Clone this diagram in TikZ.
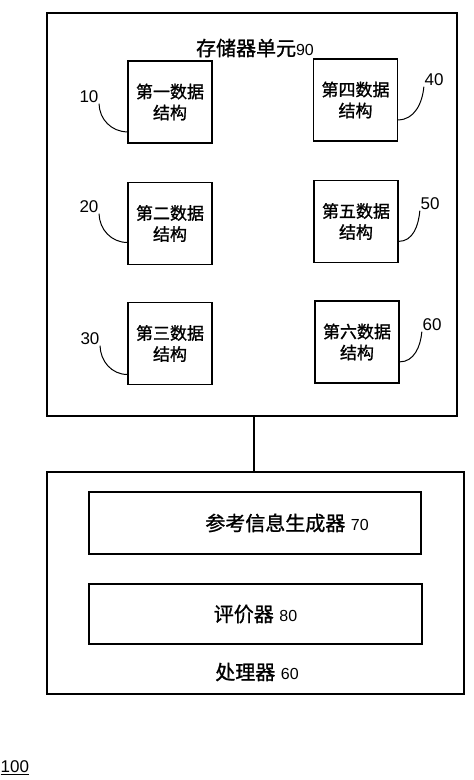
\documentclass[tikz,border=0pt]{standalone}
\usepackage{fontspec}
\setmainfont{Liberation Sans}
\newfontfamily\cjk[FakeBold=1.2]{Noto Sans CJK SC}
\usepackage{tikz}
\usetikzlibrary{positioning}

\tikzset{
    databox/.style={draw, line width=1.3pt, minimum width=84pt, minimum height=82pt,
        align=center, inner sep=0pt, font=\cjk\fontsize{17}{21}\selectfont},
    numlabel/.style={inner sep=0.5pt, font=\fontsize{17}{20}\selectfont},
    leader/.style={line width=1pt},
    unitbox/.style={draw, line width=1.4pt, inner sep=0pt},
}

\begin{document}
\begin{tikzpicture}[x=1pt, y=-1pt]
    \useasboundingbox (0, 0) rectangle (474, 780);
    % Memory unit
    \node [unitbox, minimum width=410pt, minimum height=403pt] (mem) at (252, 214.5) {};
    \node [font=\fontsize{20}{24}\selectfont] (memlabel) at (255, 48) {{\cjk 存储器单元}\fontsize{16}{18}\selectfont 90};
    % Data structures
    \node [databox] (ds1) at (170, 102) {第一数据\\结构};
    \node [databox] (ds2) at (170, 223.5) {第二数据\\结构};
    \node [databox] (ds3) at (170, 343.5) {第三数据\\结构};
    \node [databox] (ds4) at (355.5, 100) {第四数据\\结构};
    \node [databox] (ds5) at (356, 221.5) {第五数据\\结构};
    \node [databox] (ds6) at (357, 342) {第六数据\\结构};
    % Reference numbers
    \node [numlabel] (n10) at (89, 97) {10};
    \node [numlabel] (n20) at (89, 207) {20};
    \node [numlabel] (n30) at (90, 339) {30};
    \node [numlabel] (n40) at (434, 80) {40};
    \node [numlabel] (n50) at (430, 204) {50};
    \node [numlabel] (n60) at (432, 325) {60};
    % Leaders
    \draw [leader] (n10.south east) to[out=-90, in=180] (ds1.215);
    \draw [leader] (n20.south east) to[out=-90, in=180] (ds2.204);
    \draw [leader] (n30.south east) to[out=-90, in=180] (ds3.216);
    \draw [leader] (n40.south west) to[out=-95, in=0] (ds4.-25);
    \draw [leader] (n50.south west) to[out=-95, in=0] (ds5.-25);
    \draw [leader] (n60.south west) to[out=-95, in=0] (ds6.-25);
    % Processor
    \node [unitbox, minimum width=417pt, minimum height=222pt] (proc) at (255.5, 583) {};
    \node [draw, line width=1.3pt, minimum width=332pt, minimum height=62pt] (gen) at (255, 523) {};
    \node [font=\fontsize{20}{24}\selectfont] (genlabel) at (287, 523) {{\cjk 参考信息生成器} \fontsize{16}{18}\selectfont 70};
    \node [draw, line width=1.3pt, minimum width=333pt, minimum height=60pt, font=\fontsize{20}{24}\selectfont] (eval) at (255.5, 614) {{\cjk 评价器} \fontsize{16}{18}\selectfont 80};
    \node [font=\fontsize{20}{24}\selectfont] (proclabel) at (257, 672) {{\cjk 处理器} \fontsize{16}{18}\selectfont 60};
    % Link
    \draw [line width=1.2pt] (mem.south -| 254, 0) -- (proc.north -| 254, 0);
    % Device
    \node [numlabel, anchor=west] (dev) at (0, 768) {\underline{100}};
\end{tikzpicture}
\end{document}
